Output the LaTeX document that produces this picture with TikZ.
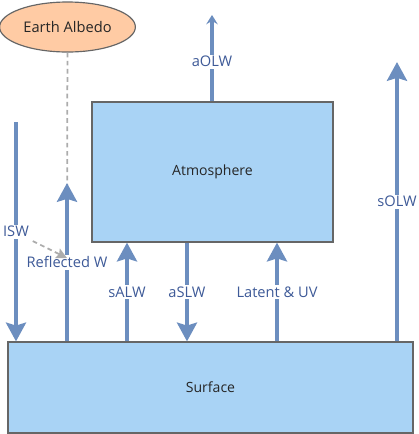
\documentclass[tikz,border=0pt]{standalone}
\usepackage{fontspec}
\setmainfont{Open Sans}
\usetikzlibrary{positioning}
\usetikzlibrary{shapes.geometric,arrows.meta}
\definecolor{flowblue}{HTML}{6C8EBF}
\definecolor{boxblue}{HTML}{A9D3F5}
\definecolor{peach}{HTML}{FFCBA4}
\definecolor{labelblue}{HTML}{3E5A98}
\definecolor{edgegray}{HTML}{666666}

\begin{document}
\begin{tikzpicture}[x=0.03cm,y=-0.03cm,
 box/.style={draw=edgegray,fill=boxblue,line width=1pt,font=\fontsize{12}{14}\selectfont,text=black!85},
 flow/.style={draw=flowblue,line width=3.8pt,-{Stealth[width=17pt,length=16pt,inset=2.5pt]}},
 flowlabel/.style={fill=white,text=labelblue,font=\fontsize{12.5}{14}\selectfont,inner sep=1.5pt},
 hint/.style={draw=gray!65,dash pattern=on 4pt off 3pt,line width=1.5pt}]
 \useasboundingbox (0,0) rectangle (419,434);
 \node[ellipse,draw=edgegray,fill=peach,line width=1pt,minimum width=3.63cm,minimum height=1.5cm,font=\fontsize{12.5}{14}\selectfont,text=black!85] (albedo) at (67.5,27) {Earth Albedo};
 \node[box,minimum width=7.23cm,minimum height=4.2cm] (atm) at (212.5,172) {Atmosphere};
 \node[box,minimum width=12.15cm,minimum height=2.73cm] (surf) at (210.5,387.5) {Surface};
 \coordinate (iswtop) at (16,122);
 \coordinate (refltop) at (67,183);
 \coordinate (reflhit) at (67,258);
 \coordinate (aolwtop) at (212,15);
 \coordinate (solwtop) at (397,62);
 \coordinate (salw) at (127,0);
 \coordinate (aslw) at (187,0);
 \coordinate (latent) at (277,0);
 % albedo hint behind the flows
 \draw[hint] (albedo) -- (reflhit);
 \draw[flow] (iswtop) -- (iswtop |- surf.north) node[flowlabel,pos=0.5] (iswlbl) {ISW};
 \draw[flow] (refltop |- surf.north) -- (refltop) node[flowlabel,pos=0.5] (refllbl) {Reflected W};
 \draw[flow] (salw |- surf.north) -- (salw |- atm.south) node[flowlabel,pos=0.5] (salwlbl) {sALW};
 \draw[flow] (aslw |- atm.south) -- (aslw |- surf.north) node[flowlabel,pos=0.5] (aslwlbl) {aSLW};
 \draw[flow] (latent |- surf.north) -- (latent |- atm.south) node[flowlabel,pos=0.5] (latentlbl) {Latent \& UV};
 \draw[flow,-{Stealth[width=10pt,length=8pt,inset=3pt]}] (aolwtop |- atm.north) -- (aolwtop) node[flowlabel,pos=0.46] (aolwlbl) {aOLW};
 \draw[flow] (solwtop |- surf.north) -- (solwtop) node[flowlabel,pos=0.5] (solwlbl) {sOLW};
 \draw[hint,-{Stealth[width=9pt,length=9pt,inset=1.5pt]}] (iswlbl.south east) -- (reflhit);
\end{tikzpicture}
\end{document}
